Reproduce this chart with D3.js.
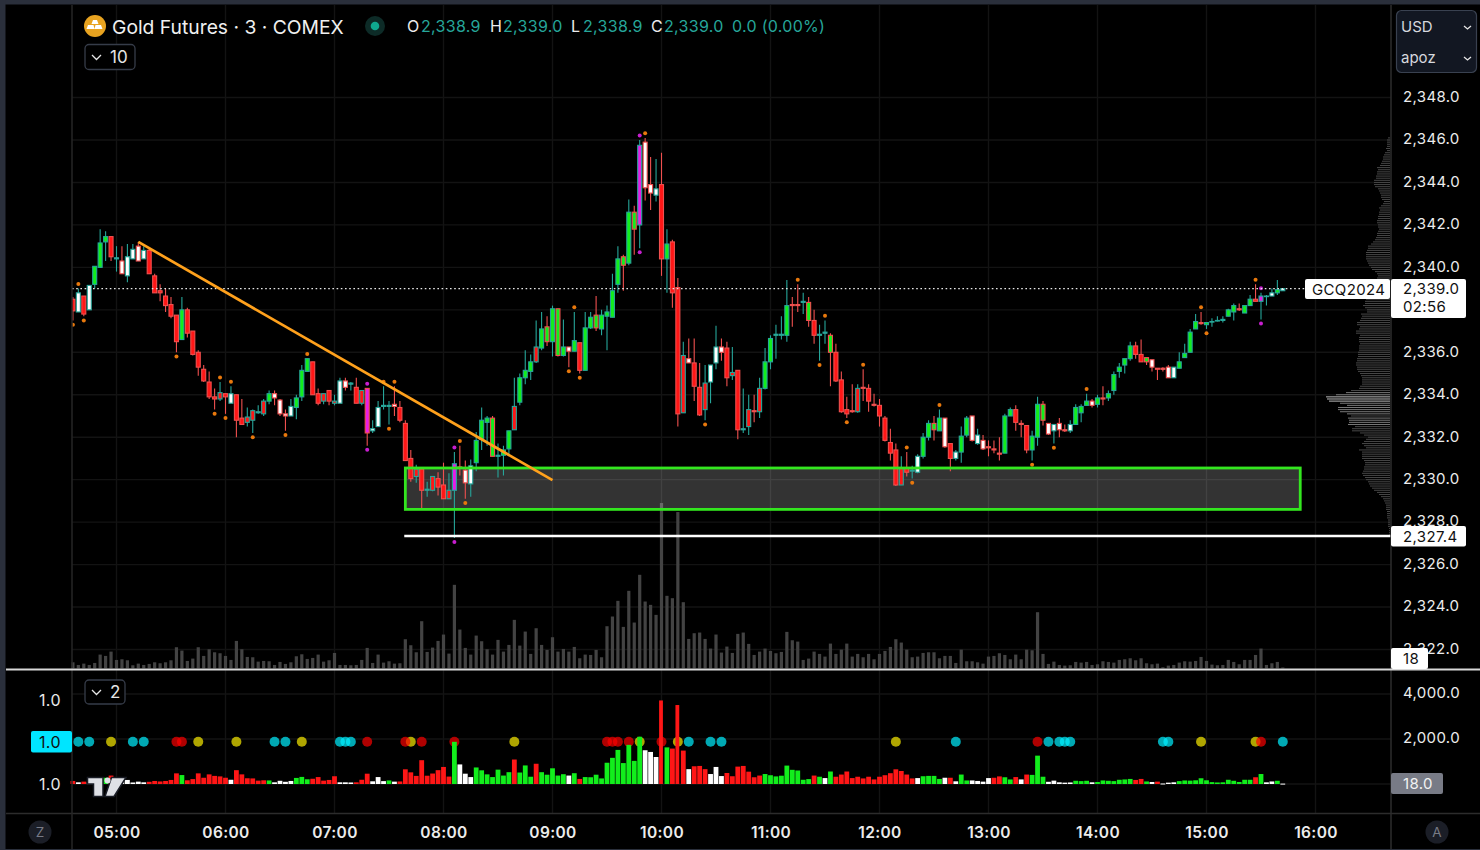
<!DOCTYPE html>
<html lang="en">

<head>
    <meta charset="UTF-8">
    <title>Gold Futures 3 COMEX</title>
    <script src="https://d3js.org/d3.v7.min.js"></script>
    <style>
        body { margin: 0; background: #000; }
        svg { display: block; }
        text { font-family: Inter, "Noto Sans", sans-serif; }
    </style>
</head>

<body>
    <script>
        // 3 minute bars, index 0 = 04:36
        const opens = [
            2338.5,2337.9,2338.65,2338.0,2339.2,2340.0,2341.2,2341.45,2340.4,2340.3,
            2339.6,2340.4,2341.0,2340.4,2340.8,2339.6,2338.9,2338.65,2338.25,2337.75,
            2336.6,2338.0,2337.0,2336.0,2335.2,2334.6,2333.9,2333.8,2334.05,2333.6,
            2334.0,2332.9,2332.7,2332.8,2333.15,2333.1,2333.7,2334.05,2333.75,2333.1,
            2333.0,2333.4,2333.9,2335.1,2335.55,2334.05,2333.7,2334.2,2333.6,2333.6,
            2334.65,2334.5,2334.35,2333.6,2334.3,2332.3,2332.5,2333.45,2333.45,2333.55,
            2333.4,2332.65,2331.0,2330.15,2330.5,2329.5,2329.5,2330.05,2329.75,2329.1,
            2329.5,2330.6,2330.45,2329.8,2330.8,2331.9,2332.7,2332.9,2331.1,2331.15,
            2331.45,2332.35,2333.65,2334.8,2335.1,2335.55,2336.2,2337.2,2336.5,2338.05,
            2335.85,2336.25,2336.05,2336.45,2335.15,2337.15,2337.75,2337.1,2337.7,2337.65,
            2339.2,2340.5,2340.2,2342.6,2342.0,2345.9,2343.9,2343.4,2343.9,2340.4,
            2341.2,2339.05,2333.15,2335.7,2335.5,2334.35,2333.3,2334.6,2335.5,2336.25,
            2336.2,2334.9,2335.15,2332.35,2332.5,2333.25,2333.2,2334.3,2335.55,2336.8,
            2336.8,2336.8,2338.25,2338.25,2338.35,2338.35,2337.5,2336.8,2336.9,2336.8,
            2336.0,2334.7,2333.3,2333.25,2333.2,2334.35,2334.3,2333.55,2333.5,2332.9,
            2331.75,2331.4,2329.75,2330.55,2330.4,2330.35,2331.1,2332.0,2332.65,2332.3,
            2332.9,2331.7,2331.0,2331.3,2332.1,2333.0,2331.7,2331.85,2331.55,2331.45,
            2331.25,2331.25,2333.0,2333.3,2332.65,2332.55,2331.4,2332.0,2333.55,2332.65,
            2332.3,2332.65,2332.35,2332.3,2332.6,2333.15,2333.5,2333.7,2333.55,2333.85,
            2333.85,2334.2,2335.1,2335.4,2335.7,2336.3,2335.9,2335.75,2335.65,2335.25,
            2335.25,2335.3,2334.8,2335.25,2335.75,2336.0,2337.1,2337.4,2337.3,2337.45,
            2337.5,2337.5,2337.7,2337.9,2338.05,2337.85,2338.2,2338.5,2338.4,2338.65,
            2338.65,2338.8,2338.9
        ];
        const highs = [
            2338.6,2339.0,2338.65,2339.15,2340.05,2341.8,2341.7,2341.45,2341.0,2341.0,
            2341.1,2341.1,2341.2,2341.0,2340.9,2339.7,2339.2,2339.0,2338.6,2337.75,
            2338.6,2338.1,2337.0,2336.1,2335.4,2335.1,2334.3,2334.6,2334.05,2334.4,
            2334.0,2333.8,2333.4,2333.3,2333.5,2333.8,2334.2,2334.2,2333.8,2333.3,
            2333.8,2334.0,2335.4,2335.7,2335.55,2334.3,2334.05,2334.2,2334.0,2334.8,
            2334.8,2334.6,2334.8,2334.2,2334.3,2332.8,2333.7,2334.4,2333.7,2334.4,
            2333.7,2332.8,2331.4,2330.7,2330.5,2329.9,2330.15,2330.35,2330.8,2330.3,
            2331.3,2331.6,2330.9,2330.95,2332.25,2333.4,2333.0,2333.0,2331.7,2331.6,
            2332.3,2334.8,2335.0,2336.1,2335.9,2337.5,2337.9,2337.7,2338.2,2338.05,
            2337.55,2336.25,2337.9,2336.45,2337.9,2337.9,2338.65,2338.0,2338.2,2339.7,
            2341.0,2340.6,2343.2,2342.9,2346.0,2346.1,2345.2,2345.1,2345.4,2341.8,
            2341.3,2339.5,2336.5,2336.65,2336.65,2335.5,2335.4,2335.4,2337.25,2336.65,
            2336.5,2336.25,2335.15,2334.3,2334.0,2334.0,2334.8,2336.2,2336.8,2337.3,
            2337.7,2339.4,2338.6,2339.2,2338.8,2338.6,2338.0,2337.3,2337.5,2336.9,
            2336.4,2335.1,2333.9,2334.5,2334.5,2335.2,2334.5,2334.05,2333.8,2333.0,
            2332.4,2331.7,2331.1,2331.3,2330.65,2331.2,2332.2,2332.8,2333.0,2333.3,
            2332.9,2331.7,2331.4,2332.5,2333.0,2333.0,2332.4,2332.1,2331.85,2331.85,
            2332.0,2333.1,2333.4,2333.5,2332.8,2332.55,2332.3,2333.9,2333.7,2332.65,
            2332.6,2332.9,2332.6,2332.8,2333.55,2333.55,2334.05,2333.8,2334.0,2334.4,
            2334.2,2335.1,2335.5,2335.7,2336.5,2336.5,2336.6,2335.75,2335.65,2335.25,
            2335.3,2335.4,2335.3,2336.0,2336.4,2337.1,2337.8,2337.9,2337.4,2337.6,
            2337.7,2337.7,2338.05,2338.3,2338.3,2338.2,2338.7,2339.2,2338.8,2338.7,
            2339.0,2339.4,2339.0
        ];
        const lows = [
            2337.5,2337.9,2337.7,2338.0,2339.0,2340.0,2340.3,2340.3,2339.8,2339.7,
            2339.3,2340.4,2340.3,2340.4,2339.7,2338.8,2338.4,2337.9,2337.6,2336.0,
            2336.6,2336.7,2335.85,2334.9,2334.6,2333.8,2333.3,2333.7,2333.1,2333.6,
            2332.0,2332.6,2332.5,2332.2,2333.1,2333.0,2333.55,2333.5,2333.0,2332.3,
            2333.0,2332.85,2333.7,2335.1,2334.0,2333.5,2333.55,2333.5,2333.5,2333.6,
            2334.2,2334.2,2333.6,2333.5,2331.6,2332.2,2332.5,2333.3,2332.6,2333.0,
            2332.7,2330.9,2329.9,2329.85,2328.6,2329.2,2329.45,2329.25,2329.1,2329.1,
            2327.25,2330.2,2329.1,2329.2,2330.4,2331.4,2331.6,2331.1,2330.1,2330.2,
            2331.2,2332.35,2333.5,2334.5,2334.7,2335.5,2336.1,2336.3,2335.8,2335.8,
            2335.8,2335.3,2336.05,2335.0,2335.15,2337.1,2337.0,2336.8,2336.1,2337.65,
            2338.8,2338.9,2340.1,2340.6,2340.9,2343.15,2342.7,2343.1,2339.6,2338.8,
            2338.1,2332.5,2333.15,2335.5,2333.7,2333.0,2332.8,2333.6,2335.2,2335.6,
            2334.4,2334.7,2331.9,2332.2,2332.1,2332.7,2332.9,2334.25,2335.2,2335.7,
            2336.6,2336.5,2337.2,2337.9,2337.8,2337.2,2336.4,2335.6,2336.4,2334.4,
            2334.6,2333.15,2332.9,2333.15,2333.15,2333.7,2333.2,2333.45,2332.5,2331.8,
            2330.9,2329.7,2329.75,2330.15,2330.05,2330.3,2331.0,2331.85,2331.85,2332.3,
            2331.5,2330.4,2330.9,2330.8,2332.0,2331.8,2331.65,2331.4,2331.1,2331.25,
            2330.9,2331.25,2333.0,2332.3,2332.0,2331.25,2330.9,2331.6,2332.55,2332.1,
            2331.7,2332.0,2332.25,2332.2,2332.6,2332.7,2333.5,2333.4,2333.4,2333.5,
            2333.7,2334.0,2334.8,2335.0,2335.6,2335.7,2335.55,2335.4,2335.1,2334.7,
            2335.1,2334.8,2334.8,2335.25,2335.75,2336.0,2337.1,2337.3,2337.1,2337.2,
            2337.45,2337.4,2337.7,2337.5,2337.95,2337.85,2338.2,2338.4,2337.55,2338.2,
            2338.65,2338.7,2338.9
        ];
        const closes = [
            2337.95,2338.8,2337.8,2339.15,2340.05,2341.15,2341.45,2340.5,2340.45,2339.7,
            2340.5,2340.85,2340.3,2340.8,2339.7,2338.8,2338.8,2338.2,2337.7,2336.5,
            2338.0,2336.9,2335.9,2335.3,2334.65,2333.9,2333.8,2334.1,2333.9,2334.05,
            2332.8,2332.6,2332.95,2333.25,2333.2,2333.7,2334.05,2333.85,2333.1,2333.0,
            2333.45,2333.85,2335.15,2335.7,2334.0,2333.6,2334.05,2333.7,2333.7,2334.65,
            2334.35,2334.55,2333.6,2334.2,2332.2,2332.4,2333.4,2333.5,2333.5,2333.45,
            2332.8,2330.9,2330.05,2330.5,2329.5,2329.55,2330.15,2329.65,2329.1,2329.5,
            2330.75,2330.55,2329.85,2330.65,2331.85,2332.8,2332.9,2331.1,2331.15,2331.4,
            2332.3,2333.45,2334.8,2335.15,2335.55,2336.25,2337.1,2336.5,2338.05,2335.85,
            2336.25,2336.05,2336.55,2335.15,2337.15,2337.65,2337.15,2337.75,2337.9,2338.9,
            2340.4,2340.1,2342.6,2341.8,2345.75,2343.75,2343.5,2343.7,2340.4,2341.1,
            2338.8,2333.1,2335.85,2335.5,2334.4,2333.05,2334.55,2335.4,2336.25,2336.0,
            2334.8,2335.05,2332.35,2332.4,2333.3,2333.2,2334.3,2335.55,2336.65,2336.85,
            2336.85,2338.2,2338.2,2338.2,2338.4,2337.5,2336.8,2336.85,2336.95,2336.0,
            2334.65,2333.2,2333.1,2333.2,2334.3,2334.3,2333.7,2333.5,2333.0,2331.85,
            2331.25,2329.75,2330.55,2330.35,2330.45,2331.1,2332.0,2332.65,2332.35,2332.9,
            2331.55,2331.0,2331.3,2332.05,2332.9,2331.85,2332.1,2331.45,2331.5,2331.4,
            2331.2,2333.0,2333.3,2332.7,2332.6,2331.4,2332.05,2333.55,2332.8,2332.15,
            2332.6,2332.35,2332.3,2332.6,2333.4,2333.45,2333.7,2333.5,2333.85,2333.8,
            2334.05,2334.95,2335.3,2335.7,2336.3,2335.9,2335.55,2335.55,2335.3,2335.2,
            2335.2,2334.8,2335.3,2335.55,2335.95,2336.95,2337.45,2337.35,2337.4,2337.45,
            2337.5,2337.55,2338.0,2338.2,2338.0,2338.2,2338.5,2338.4,2338.65,2338.65,
            2338.8,2338.95,2339.0
        ];
        const volumes = [
            135,75,105,75,120,308,278,375,188,203,
            180,68,105,75,98,135,113,135,180,473,
            398,165,218,473,278,428,360,338,278,188,
            615,428,255,248,150,165,158,75,143,98,
            135,270,315,210,233,308,150,180,345,75,
            75,68,75,188,458,120,308,128,158,105,
            113,653,518,360,1058,368,465,615,758,330,
            1875,870,458,308,735,608,428,308,638,375,
            525,1088,510,825,323,900,525,413,698,375,
            435,375,480,225,308,300,413,248,945,1163,
            1515,930,1740,1028,2100,1500,1425,1200,3713,1628,
            1575,3510,1485,660,788,803,660,443,758,353,
            488,345,773,803,548,300,375,443,390,338,
            368,818,630,600,188,218,375,323,263,555,
            323,420,555,263,323,248,323,203,323,390,
            480,653,578,420,248,263,345,360,360,225,
            278,278,120,420,158,158,135,105,263,278,
            338,300,203,308,203,420,405,1260,323,98,
            150,75,60,68,143,128,143,75,90,158,
            143,128,188,203,225,180,225,113,90,105,
            23,60,75,128,158,150,165,255,165,83,
            68,75,188,143,90,188,188,300,443,75,
            113,143,18
        ];
        // body fill per bar: r red, g green, w white, m magenta
        const fills = ("r w r w g g g r w w " +
            "w w w w r r r r r r " +
            "g r r r r r r r r w " +
            "r r r r r r g w w w " +
            "w g g g r r r r r w " +
            "w w r r m w w w g w " +
            "r r r r r r r r r r " +
            "m w w w g g g g g g " +
            "g r g g g r g g g g " +
            "g w g r g g g g g g " +
            "g g g g m w w w r g " +
            "r r r w r r r w w w " +
            "r r r r r r r g g g " +
            "g g g g g g r g w g " +
            "r r r r r r r r r r " +
            "r r r r r w g g g g " +
            "w r w g g w w w w r " +
            "r g g r w r g g g w " +
            "w w w w g g g w g g " +
            "g g g g g r r g w r " +
            "w w w g g g g g g g " +
            "g g g g g g g r m w " +
            "w g w").split(" ");

        // dots on the 1.0 line of the lower pane (bar index)
        const tealDots = [1, 3, 11, 13, 37, 39, 49, 50, 51, 113, 117, 119, 162, 179, 181, 182, 183, 200, 201, 222];
        const oliveDots = [7, 23, 30, 42, 62, 81, 104, 111, 151, 207, 217];
        const redDots = [19, 20, 54, 61, 64, 70, 98, 99, 100, 102, 108, 177, 218];

        // small pivot markers round the candles (bar index)
        const orangeAbove = [1, 27, 29, 43, 57, 59, 71, 92, 105, 133, 138, 145, 153, 159, 186, 207, 217];
        const orangeBelow = [0, 2, 19, 26, 28, 33, 39, 58, 72, 91, 93, 116, 137, 142, 154, 176, 180, 208];
        const magentaMarks = [54, 70, 104, 218];

        // volume profile, one length per 0.1 from 2346.1 down to 2327.4
        const profileTop = 2346.1;
        const profile = [
            2,3,3,3,3,4,3,5,6,7,7,8,9,10,13,12,13,13,14,14,16,16,16,15,12,11,10,
            9,9,8,6,7,9,11,10,11,11,12,12,13,13,12,12,11,12,13,13,14,15,17,19,22,22,23,24,24,24,
            24,23,22,21,19,18,15,13,12,13,14,15,16,17,18,20,21,22,24,24,25,25,27,25,23,23,29,28,29,30,
            33,33,30,31,34,34,30,31,31,31,30,31,31,31,32,32,32,33,33,34,34,33,33,32,30,29,28,28,28,28,
            30,31,39,44,54,64,63,61,50,43,52,52,50,43,39,42,41,41,42,35,38,38,30,26,22,24,26,28,26,24,
            31,28,28,28,28,26,25,25,26,26,27,28,27,25,24,22,21,20,18,16,13,11,9,7,6,5,4,4,4,3,
            3,3,3,2,2,2,2,1,1,1,1
        ];

        const priceTicks = [2348, 2346, 2344, 2342, 2340, 2338, 2336, 2334, 2332, 2330, 2328, 2326, 2324, 2322];
        const lowerTicks = [4000, 2000, 0];
        const hourLabels = ["05:00", "06:00", "07:00", "08:00", "09:00", "10:00", "11:00", "12:00", "13:00", "14:00", "15:00", "16:00"];
        const hourBars = [8, 28, 48, 68, 88, 108, 128, 148, 168, 188, 208, 228];

        // drawings
        const zone = { from: 61, to: 225.2, top: 2330.55, bottom: 2328.6 };
        const trend = { from: 12, to: 88, start: 2341.2, end: 2329.98 };
        const levelPrice = 2327.35;
        const levelFrom = 60.8;
        const lastPrice = 2339.0;

        const width = 1480;
        const height = 850;
        const paneLeft = 72;
        const paneRight = 1391;

        const colRed = "#ff1616";
        const colGreen = "#12ee1c";
        const colWick = { up: "#26a69a", down: "#f0504f" };
        const fillColor = { r: colRed, g: colGreen, w: "#ffffff", m: "#e81ce8" };

        let svg = d3.select("body")
            .append("svg")
            .attr("width", width)
            .attr("height", height);

        svg.append("rect").attr("width", width).attr("height", height).attr("fill", "#000");
        svg.append("clipPath").attr("id", "pane")
            .append("rect").attr("x", paneLeft).attr("y", 5).attr("width", paneRight - paneLeft).attr("height", 664);

        let x = d3.scaleLinear().domain([0, 222]).range([72.9, 1282.8]);
        let y = d3.scaleLinear().domain([2346, 2322]).range([140, 649.5]);
        let yVol = d3.scaleLinear().domain([0, 3713]).range([668.3, 503]);
        let yLow = d3.scaleLinear().domain([0, 4000]).range([784, 694]);

        // grid
        let grid = svg.append("g").attr("stroke", "#131313").attr("stroke-width", 1.4);
        grid.selectAll(".h")
            .data(priceTicks)
            .enter().append("line")
            .attr("x1", paneLeft).attr("x2", paneRight)
            .attr("y1", d => y(d)).attr("y2", d => y(d));
        grid.selectAll(".l")
            .data(lowerTicks)
            .enter().append("line")
            .attr("x1", paneLeft).attr("x2", paneRight)
            .attr("y1", d => yLow(d)).attr("y2", d => yLow(d));
        grid.selectAll(".v")
            .data(hourBars)
            .enter().append("line")
            .attr("x1", d => x(d)).attr("x2", d => x(d))
            .attr("y1", 5).attr("y2", 813);

        // upper volume
        let bars = d3.range(opens.length);
        svg.append("g").selectAll("rect")
            .data(bars)
            .enter().append("rect")
            .attr("x", i => x(i) - 1.6)
            .attr("width", 3.2)
            .attr("y", i => yVol(volumes[i]))
            .attr("height", i => yVol(0) - yVol(volumes[i]))
            .attr("fill", "#434343");

        // volume profile
        svg.append("g").selectAll("line")
            .data(profile)
            .enter().append("line")
            .attr("x1", paneRight - 1)
            .attr("x2", d => paneRight - 1 - d)
            .attr("y1", (d, i) => y(profileTop - i * 0.1))
            .attr("y2", (d, i) => y(profileTop - i * 0.1))
            .attr("stroke", d => d > 55 ? "#bcbcbc" : (d > 40 ? "#7a7a7a" : "#484848"))
            .attr("stroke-width", 1);

        // zone fill sits above volume, below candles
        svg.append("rect")
            .attr("x", x(zone.from)).attr("width", x(zone.to) - x(zone.from))
            .attr("y", y(zone.top)).attr("height", y(zone.bottom) - y(zone.top))
            .attr("fill", "#ffffff").attr("fill-opacity", 0.2);

        // candles
        let chartArea = svg.append("g").attr("clip-path", "url(#pane)");
        let candle = chartArea.append("g").selectAll("g")
            .data(bars)
            .enter().append("g");
        candle.append("line")
            .attr("x1", i => x(i)).attr("x2", i => x(i))
            .attr("y1", i => y(highs[i])).attr("y2", i => y(lows[i]))
            .attr("stroke", i => closes[i] >= opens[i] ? colWick.up : colWick.down)
            .attr("stroke-width", 1.1);
        candle.append("rect")
            .attr("x", i => x(i) - 2)
            .attr("width", 4)
            .attr("y", i => y(Math.max(opens[i], closes[i])))
            .attr("height", i => Math.max(0.6, Math.abs(y(opens[i]) - y(closes[i]))))
            .attr("fill", i => fillColor[fills[i]])
            .attr("stroke", i => closes[i] >= opens[i] ? colWick.up : colWick.down)
            .attr("stroke-width", 1.1);

        // pivot markers
        function marks(list, fn, col, r) {
            chartArea.append("g").selectAll("circle")
                .data(list)
                .enter().append("circle")
                .attr("cx", i => x(i))
                .attr("cy", fn)
                .attr("r", r)
                .attr("fill", col);
        }
        marks(orangeAbove, i => y(highs[i]) - 4.6, "#e8780c", 2);
        marks(orangeBelow, i => y(lows[i]) + 4.2, "#e8780c", 2);
        marks(magentaMarks, i => y(highs[i]) - 4.6, "#c81ed0", 2);
        marks(magentaMarks, i => y(lows[i]) + 4, "#c81ed0", 2);

        // last price dotted line
        svg.append("line")
            .attr("x1", paneLeft).attr("x2", 1305)
            .attr("y1", y(lastPrice)).attr("y2", y(lastPrice))
            .attr("stroke", "#e8e8e8")
            .attr("stroke-width", 1.3)
            .attr("stroke-dasharray", "1.6 2.6");

        // zone outline, trend line, level line
        svg.append("rect")
            .attr("x", x(zone.from)).attr("width", x(zone.to) - x(zone.from))
            .attr("y", y(zone.top)).attr("height", y(zone.bottom) - y(zone.top))
            .attr("fill", "none")
            .attr("stroke", "#33e61f")
            .attr("stroke-width", 2.8);
        svg.append("line")
            .attr("x1", x(trend.from)).attr("x2", x(trend.to))
            .attr("y1", y(trend.start)).attr("y2", y(trend.end))
            .attr("stroke", "#ffa11c")
            .attr("stroke-width", 2.7);
        svg.append("line")
            .attr("x1", x(levelFrom)).attr("x2", paneRight)
            .attr("y1", y(levelPrice)).attr("y2", y(levelPrice))
            .attr("stroke", "#ffffff")
            .attr("stroke-width", 2.5);

        // lower pane: dots first, the bars go over them
        function dots(list, col) {
            svg.append("g").selectAll("circle")
                .data(list)
                .enter().append("circle")
                .attr("cx", i => x(i))
                .attr("cy", 741.7)
                .attr("r", 5)
                .attr("fill", col)
                .attr("fill-opacity", 0.7);
        }
        dots(tealDots, "#00f0ff");
        dots(oliveDots, "#faeb00");
        dots(redDots, "#fa0000");

        svg.append("g").selectAll("rect")
            .data(bars)
            .enter().append("rect")
            .attr("x", i => x(i) - 2.4)
            .attr("width", i => volumes[i] > 3000 ? 3.8 : 4.8)
            .attr("y", i => yLow(volumes[i]))
            .attr("height", i => Math.max(1, yLow(0) - yLow(volumes[i])))
            .attr("fill", i => {
                let f = fills[i];
                if (f == "m") return closes[i] >= opens[i] ? colGreen : colRed;
                return fillColor[f];
            });

        // axes
        let tickStyle = g => {
            g.select(".domain").remove();
            g.selectAll(".tick line").remove();
            g.selectAll("text")
                .attr("fill", "#ececec")
                .style("font-size", "15px")
                .style("font-family", "Inter")
                .style("letter-spacing", "0.35px");
        };
        svg.append("g")
            .attr("transform", "translate(1403,0)")
            .call(d3.axisRight(y).tickValues(priceTicks).tickFormat(d3.format(",.1f")).tickSize(0).tickPadding(0))
            .call(tickStyle)
            .selectAll("text").attr("dy", "0.32em").attr("transform", "translate(0,-1)");
        svg.append("g")
            .attr("transform", "translate(1403,0)")
            .call(d3.axisRight(yLow).tickValues([4000, 2000]).tickFormat(d3.format(",.1f")).tickSize(0).tickPadding(0))
            .call(tickStyle)
            .selectAll("text").attr("dy", "0.32em").attr("transform", "translate(0,-1)");
        let timeAxis = svg.append("g")
            .attr("transform", "translate(0,833)")
            .call(d3.axisBottom(x).tickValues(hourBars).tickFormat((d, i) => hourLabels[i]).tickSize(0).tickPadding(0))
            .call(tickStyle);
        timeAxis.selectAll("text")
            .attr("y", 0)
            .attr("dy", "0.34em")
            .style("font-weight", 600)
            .style("font-size", "15.5px");

        // pane frame
        let frame = svg.append("g").attr("fill", "none");
        frame.append("path").attr("d", "M72 5V813").attr("stroke", "#262626").attr("stroke-width", 1.5);
        frame.append("path").attr("d", "M1391 5V849").attr("stroke", "#2c2c2c").attr("stroke-width", 1.5);
        frame.append("path").attr("d", "M6 813.5H1480").attr("stroke", "#2c2c2c").attr("stroke-width", 1.4);
        frame.append("path").attr("d", "M72 813V849").attr("stroke", "#262626").attr("stroke-width", 1.5);
        frame.append("path").attr("d", "M6 669.5H1480").attr("stroke", "#d8d8d8").attr("stroke-width", 1.8);
        svg.append("rect").attr("width", width).attr("height", 4.5).attr("fill", "#2a2f3b");
        svg.append("rect").attr("width", 5.5).attr("height", height).attr("fill", "#2a2f3b");
        svg.append("rect").attr("y", 849).attr("width", width).attr("height", 1).attr("fill", "#2a2f3b");

        // header
        svg.append("circle").attr("cx", 95).attr("cy", 26).attr("r", 11).attr("fill", "#e8a320");
        svg.append("path").attr("d", "M93 20h4l1.5 4h-7zM88 25h5.5l1 4h-8zM95.5 25h5.5l1.5 4h-8z").attr("fill", "#fff");
        svg.append("text").attr("x", 112).attr("y", 33.5)
            .attr("fill", "#f0f0f0").style("font-size", "19.3px")
            .text("Gold Futures · 3 · COMEX");
        svg.append("circle").attr("cx", 375).attr("cy", 26).attr("r", 10).attr("fill", "#0d2b27");
        svg.append("circle").attr("cx", 375).attr("cy", 26).attr("r", 4.3).attr("fill", "#0fa88f");

        const ohlcNames = ["O", "H", "L", "C"];
        const ohlcValues = ["2,338.9", "2,339.0", "2,338.9", "2,339.0"];
        const ohlcNameX = [407, 490, 571, 651];
        const ohlcValueX = [421, 503, 583, 664];
        const ohlcText = svg.append("g").style("font-size", "16px").style("letter-spacing", "0.3px");
        ohlcNames.forEach((n, i) => {
            ohlcText.append("text").attr("x", ohlcNameX[i]).attr("y", 32).attr("fill", "#ececec").text(n);
            ohlcText.append("text").attr("x", ohlcValueX[i]).attr("y", 32).attr("fill", "#26a69a").text(ohlcValues[i]);
        });
        ohlcText.append("text").attr("x", 732).attr("y", 32).attr("fill", "#26a69a").text("0.0 (0.00%)");

        // collapse buttons
        function collapseBox(bx, by, w, h, label) {
            svg.append("rect").attr("x", bx).attr("y", by).attr("width", w).attr("height", h).attr("rx", 4)
                .attr("fill", "#000").attr("stroke", "#363c49").attr("stroke-width", 1.3);
            svg.append("path").attr("d", `M${bx + 7} ${by + h / 2 - 2}l4.5 4.5l4.5 -4.5`)
                .attr("fill", "none").attr("stroke", "#e6e6e6").attr("stroke-width", 1.3);
            svg.append("text").attr("x", bx + 25).attr("y", by + h / 2 + 6)
                .attr("fill", "#e6e6e6").style("font-size", "17px").text(label);
        }
        collapseBox(85, 44.5, 50, 25, "10");
        collapseBox(85, 680, 40, 24, "2");

        // USD box
        svg.append("rect").attr("x", 1396.5).attr("y", 10.5).attr("width", 80).attr("height", 62).attr("rx", 5)
            .attr("fill", "#121722").attr("stroke", "#394150").attr("stroke-width", 1.2);
        svg.append("text").attr("x", 1401).attr("y", 32).attr("fill", "#d6d8de").style("font-size", "15px").text("USD");
        svg.append("text").attr("x", 1401).attr("y", 63).attr("fill", "#d6d8de").style("font-size", "15px").text("apoz");
        svg.append("path").attr("d", "M1464 26l3.5 3l3.5 -3M1464 57l3.5 3l3.5 -3")
            .attr("fill", "none").attr("stroke", "#e6e6e6").attr("stroke-width", 1.3);

        // price labels
        function label(lx, ly, w, h, col) {
            svg.append("rect").attr("x", lx).attr("y", ly).attr("width", w).attr("height", h).attr("rx", 2).attr("fill", col);
        }
        function labelText(tx, ty, txt, col, size) {
            svg.append("text").attr("x", tx).attr("y", ty).attr("fill", col)
                .style("font-size", size + "px").style("letter-spacing", "0.35px").text(txt);
        }
        label(1305, 279, 85, 20, "#ffffff");
        labelText(1312, 294.5, "GCQ2024", "#111", 15);
        label(1391, 279, 75, 39, "#ffffff");
        labelText(1403, 293.5, "2,339.0", "#111", 15);
        labelText(1403, 312, "02:56", "#111", 15);
        label(1391, 526, 75, 20.5, "#ffffff");
        labelText(1403, 541.5, "2,327.4", "#111", 15);
        label(1391, 648, 37, 21, "#ffffff");
        labelText(1403, 664, "18", "#111", 15);
        label(1391, 773, 52, 21, "#787b86");
        labelText(1403, 789, "18.0", "#f2f2f2", 15);

        // left scale of the lower pane
        label(31, 731, 41, 21.5, "#00e5ff");
        labelText(39, 705.5, "1.0", "#e8e8e8", 16);
        labelText(39, 747.5, "1.0", "#111", 16);
        labelText(39, 789.5, "1.0", "#e8e8e8", 16);

        // logo
        svg.append("path")
            .attr("d", "M87.5 777.5H103V796.5H93.5V784H87.5ZM111.5 777.5H126L114 796.5H105Z")
            .attr("fill", "#dfe1e6").attr("stroke", "#1a1d26").attr("stroke-width", 1.5);
        svg.append("circle").attr("cx", 107.5).attr("cy", 780.5).attr("r", 3).attr("fill", "#dfe1e6");

        // corner buttons
        [[40, "Z"], [1437, "A"]].forEach(d => {
            svg.append("circle").attr("cx", d[0]).attr("cy", 832).attr("r", 11.5).attr("fill", "#1b1e27");
            svg.append("text").attr("x", d[0]).attr("y", 837).attr("text-anchor", "middle")
                .attr("fill", "#787b86").style("font-size", "13.5px").text(d[1]);
        });
    </script>
</body>

</html>
